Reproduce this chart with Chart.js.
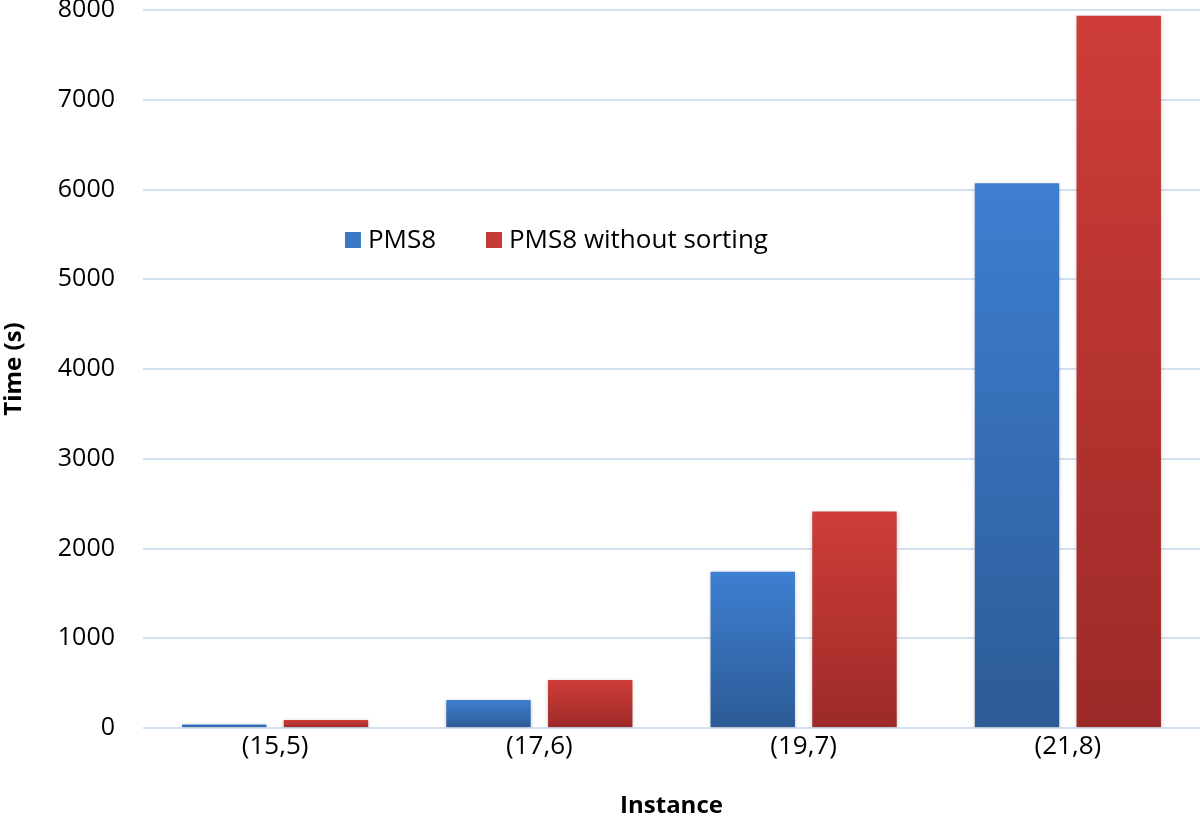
<!DOCTYPE html>
<html>
<head>
<meta charset="utf-8">
<script src="https://cdn.jsdelivr.net/npm/chart.js@4.4.1/dist/chart.umd.min.js"></script>
<style>
html,body{margin:0;padding:0;background:#fff;}
#wrap{width:1200px;height:821px;}
</style>
</head>
<body>
<div id="wrap"><canvas id="c" width="1200" height="821"></canvas></div>
<script>
const categories = ["(15,5)", "(17,6)", "(19,7)", "(21,8)"];
const pms8 = [40, 312, 1741, 6071];
const pms8NoSort = [90, 535, 2411, 7935];
const seriesNames = ["PMS8", "PMS8 without sorting"];
const yTicks = [0, 1000, 2000, 3000, 4000, 5000, 6000, 7000, 8000];

const FONT = "'Open Sans', 'DejaVu Sans', sans-serif";

function gradFill(top, bottom, solid) {
  return function (ctx) {
    const chart = ctx.chart;
    if (!chart.chartArea || ctx.type !== 'data') return solid;
    const y = chart.scales.y;
    const t = y.getPixelForValue(ctx.raw);
    const b = y.getPixelForValue(0);
    if (!isFinite(t) || !isFinite(b) || b - t < 1) return solid;
    const g = chart.ctx.createLinearGradient(0, t, 0, b);
    g.addColorStop(0, top);
    g.addColorStop(1, bottom);
    return g;
  };
}

const legendInside = {
  id: 'legendInside',
  afterDraw(chart) {
    const ctx = chart.ctx;
    const ca = chart.chartArea;
    const cy = ca.top + 230;
    ctx.save();
    ctx.font = "26px " + FONT;
    ctx.textBaseline = 'middle';
    const items = [
      {x: ca.left + 202, color: '#3A78C8', text: seriesNames[0]},
      {x: ca.left + 343, color: '#C63A36', text: seriesNames[1]}
    ];
    items.forEach(it => {
      ctx.fillStyle = it.color;
      ctx.fillRect(it.x, cy - 8, 16, 16);
      ctx.fillStyle = '#000';
      ctx.fillText(it.text, it.x + 23, cy + 1);
    });
    ctx.restore();
  }
};

const shadowPlugin = {
  id: 'barShadow',
  beforeDatasetsDraw(chart) {
    const ctx = chart.ctx;
    ctx.save();
    ctx.shadowColor = 'rgba(0,0,0,0.22)';
    ctx.shadowBlur = 4;
    ctx.shadowOffsetX = 0;
    ctx.shadowOffsetY = 1;
  },
  afterDatasetsDraw(chart) {
    chart.ctx.restore();
  }
};

new Chart(document.getElementById('c'), {
  type: 'bar',
  data: {
    labels: categories,
    datasets: [
      {
        label: seriesNames[0],
        data: pms8,
        backgroundColor: gradFill('#3E7FD1', '#2C5B96', '#3A78C8'),
        borderWidth: 0,
        categoryPercentage: 0.77,
        barPercentage: 0.83
      },
      {
        label: seriesNames[1],
        data: pms8NoSort,
        backgroundColor: gradFill('#CE3D39', '#9C2A28', '#C63A36'),
        borderWidth: 0,
        categoryPercentage: 0.77,
        barPercentage: 0.83
      }
    ]
  },
  options: {
    responsive: false,
    animation: false,
    devicePixelRatio: 1,
    layout: {padding: {left: 0, right: 0, top: 0, bottom: 0}},
    plugins: {
      legend: {display: false},
      tooltip: {enabled: false}
    },
    scales: {
      x: {
        grid: {display: false, drawTicks: false},
        border: {display: false},
        ticks: {
          color: '#000',
          font: {family: FONT, size: 26, lineHeight: 1.2},
          padding: 3
        },
        title: {
          display: true,
          text: 'Instance',
          color: '#000',
          font: {family: FONT, size: 24, weight: 'bold', lineHeight: 1.2},
          padding: {top: 27, bottom: 0}
        }
      },
      y: {
        min: yTicks[0],
        max: yTicks[yTicks.length - 1],
        afterBuildTicks(scale) {
          scale.ticks = yTicks.map(v => ({value: v}));
        },
        grid: {color: '#D3E0EF', lineWidth: 2, drawTicks: true, tickLength: 28, tickColor: 'rgba(0,0,0,0)'},
        border: {display: false},
        ticks: {
          color: '#000',
          font: {family: FONT, size: 25, lineHeight: 0.8},
          padding: 0,
          callback: v => String(v)
        },
        title: {
          display: true,
          text: 'Time (s)',
          color: '#000',
          font: {family: FONT, size: 24, weight: 'bold', lineHeight: 1.2},
          padding: {top: 0, bottom: 29}
        }
      }
    }
  },
  plugins: [shadowPlugin, legendInside]
});
</script>
</body>
</html>
